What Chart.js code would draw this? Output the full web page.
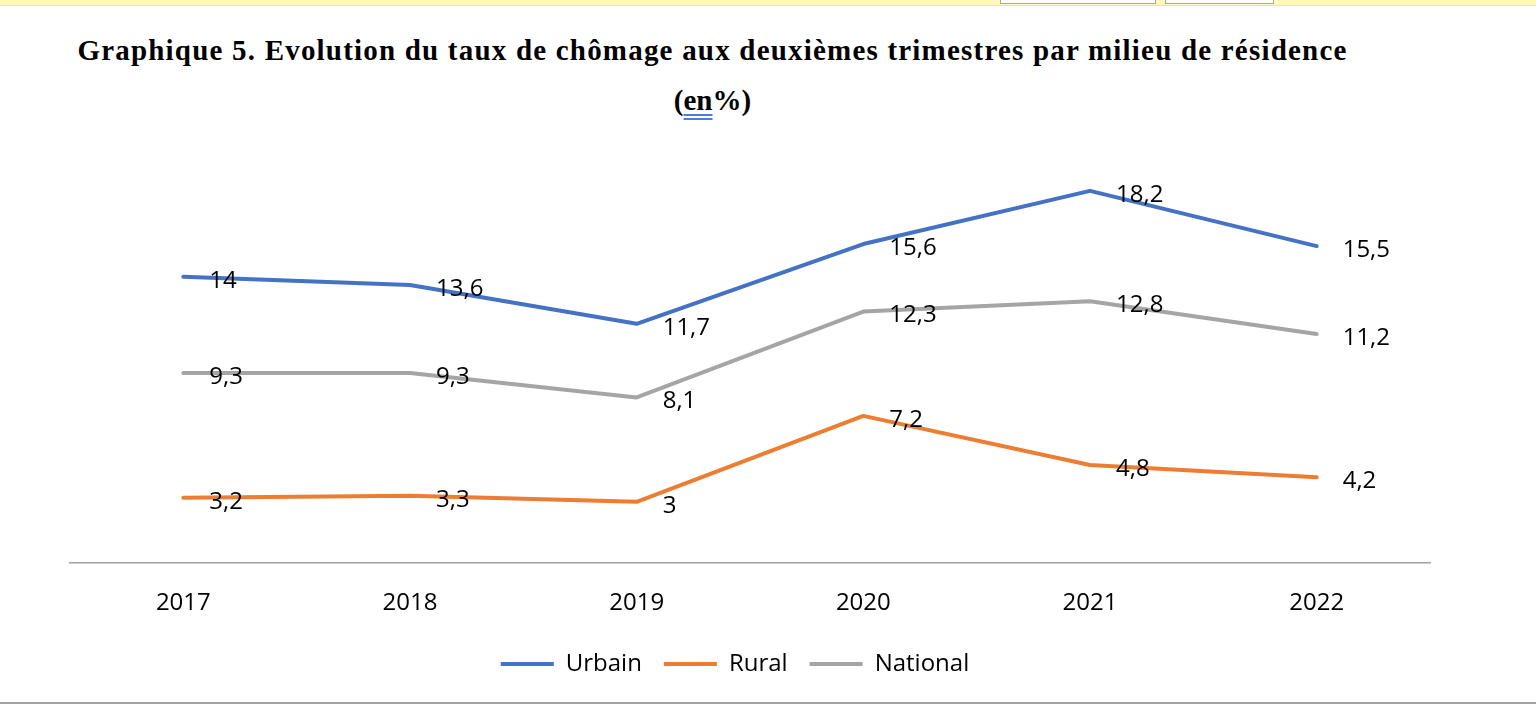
<!DOCTYPE html>
<html lang="fr">
<head>
<meta charset="utf-8">
<script src="https://cdn.jsdelivr.net/npm/chart.js@4"></script>
<style>
    html, body { margin: 0; padding: 0; background: #fff; }
    body { width: 1536px; height: 712px; position: relative; overflow: hidden; }
    .topbar { position: absolute; left: 0; top: 0; width: 1536px; height: 5px; background: #fef9c0; border-bottom: 1px solid #e9e3a6; }
    .topbox { position: absolute; top: -2px; height: 4px; border: 1px solid #a8a8a8; background: #fff; }
    .title { position: absolute; left: 0; width: 1425px; text-align: center;
             font-family: "Liberation Serif", serif; font-weight: bold; font-size: 29px; color: #000; }
    .title u { text-decoration: underline double #4a7be0; text-underline-offset: 4px; }
    .chartBox { position: absolute; left: 0; top: 130px; width: 1500px; height: 556px; }
    .bottomline { position: absolute; left: 0; top: 702px; width: 1536px; height: 2px; background: #a2a2a2; }
</style>
</head>
<body>
<div class="topbar"></div>
<div class="topbox" style="left:1000px;width:154px"></div>
<div class="topbox" style="left:1165px;width:107px"></div>

<div class="title" style="top:34px;letter-spacing:1.2px">Graphique 5. Evolution du taux de chômage aux deuxièmes trimestres par milieu de résidence</div>
<div class="title" style="top:84px">(<u>en</u>%)</div>

<div class="chartBox"><canvas id="chomageChart"></canvas></div>
<div class="bottomline"></div>

<script>
// Données du graphique 5
const years = ['2017', '2018', '2019', '2020', '2021', '2022'];
const urbain = [14, 13.6, 11.7, 15.6, 18.2, 15.5];
const rural = [3.2, 3.3, 3, 7.2, 4.8, 4.2];
const national = [9.3, 9.3, 8.1, 12.3, 12.8, 11.2];

// Étiquettes de valeurs à droite des points (format français)
const valueLabels = {
    id: 'valueLabels',
    afterDatasetsDraw(chart) {
        const ctx = chart.ctx;
        ctx.save();
        ctx.font = '24px "Open Sans"';
        ctx.fillStyle = '#000';
        ctx.textAlign = 'left';
        ctx.textBaseline = 'middle';
        chart.data.datasets.forEach((ds, i) => {
            const meta = chart.getDatasetMeta(i);
            meta.data.forEach((pt, j) => {
                const txt = String(ds.data[j]).replace('.', ',');
                ctx.fillText(txt, pt.x + 26, pt.y + 4);
            });
        });
        ctx.restore();
    }
};

const lineDataset = (label, data, color) => ({
    label: label,
    data: data,
    borderColor: color,
    backgroundColor: color,
    borderWidth: 4,
    borderJoinStyle: 'round',
    borderCapStyle: 'round',
    pointRadius: 0,
    tension: 0
});

new Chart(document.getElementById('chomageChart'), {
    type: 'line',
    data: {
        labels: years,
        datasets: [
            lineDataset('Urbain', urbain, '#4472C4'),
            lineDataset('Rural', rural, '#ED7D31'),
            lineDataset('National', national, '#A5A5A5')
        ]
    },
    options: {
        responsive: true,
        maintainAspectRatio: false,
        animation: false,
        layout: { padding: { top: 24, left: 40, right: 70, bottom: 0 } },
        plugins: {
            legend: {
                position: 'bottom',
                labels: {
                    usePointStyle: true,
                    pointStyle: 'line',
                    pointStyleWidth: 53,
                    boxHeight: 24,
                    padding: 22,
                    color: '#000',
                    font: { family: '"Open Sans"', size: 24 }
                }
            },
            tooltip: { enabled: false }
        },
        scales: {
            x: {
                offset: true,
                grid: { display: false, drawTicks: false },
                border: { display: true, color: '#a0a0a0', width: 1.5 },
                ticks: { color: '#000', padding: 26, font: { family: '"Open Sans"', size: 24 } },
                // légende rapprochée des années
                afterFit: (scale) => { scale.height -= 14; }
            },
            y: {
                display: true,
                min: 0,
                max: 20,
                grid: { display: false, drawTicks: false },
                border: { display: false },
                ticks: { display: false },
                // axe invisible : garde la zone de tracé à 70px du bord
                afterFit: (scale) => { scale.width = 30; }
            }
        }
    },
    plugins: [valueLabels]
});
</script>
</body>
</html>
